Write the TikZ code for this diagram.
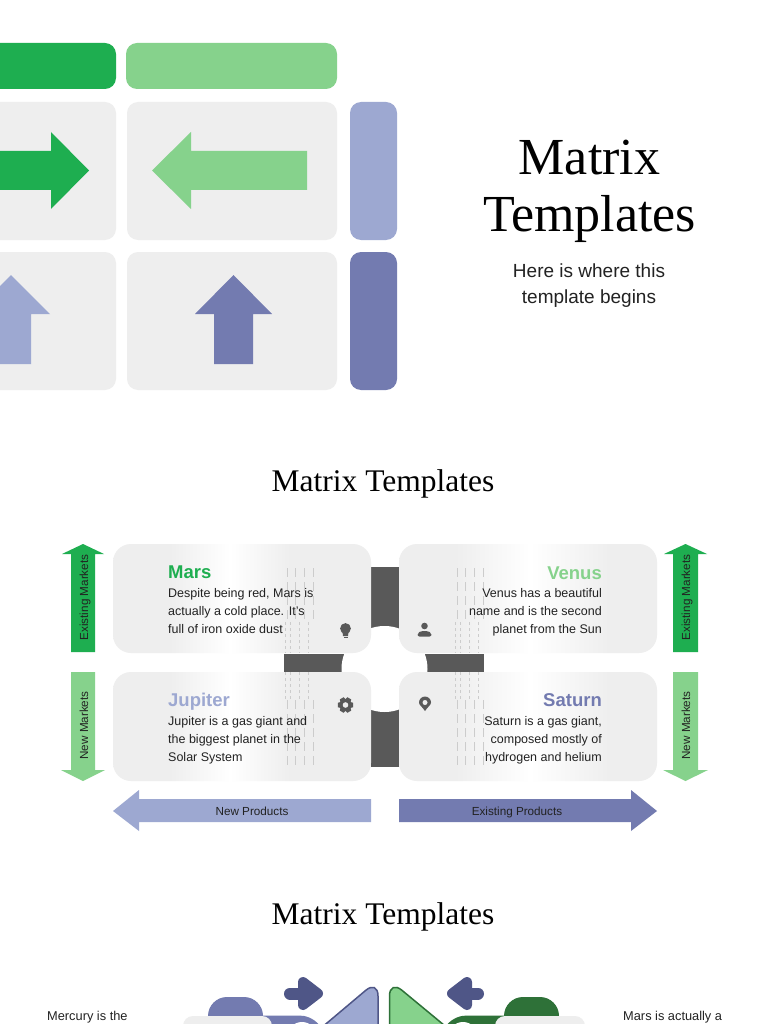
\documentclass[tikz,border=0pt]{standalone}
\usepackage{fontspec}
\setmainfont{Liberation Sans}
\newfontfamily\serifface{Liberation Serif}
\usetikzlibrary{calc}
\definecolor{gA}{HTML}{1EAE50}
\definecolor{gB}{HTML}{86D28C}
\definecolor{pA}{HTML}{9DA8D1}
\definecolor{pB}{HTML}{737BB0}
\definecolor{pD}{HTML}{4F5687}
\definecolor{gD}{HTML}{2E7138}
\definecolor{cardg}{HTML}{EEEEEE}
\definecolor{barg}{HTML}{595959}
\definecolor{icong}{HTML}{595959}
\definecolor{txt}{HTML}{222222}
\pgfdeclarehorizontalshading{cardL}{100bp}{color(0bp)=(cardg); color(36bp)=(cardg); color(47.7bp)=(white); color(59.3bp)=(cardg); color(100bp)=(cardg)}
\pgfdeclarehorizontalshading{cardR}{100bp}{color(0bp)=(cardg); color(36bp)=(cardg); color(50.4bp)=(white); color(65.7bp)=(cardg); color(100bp)=(cardg)}
\tikzset{
  roundbox/.style={rectangle,inner sep=0pt,outer sep=0pt,draw=none},
  cardL/.style={roundbox,rounded corners=18pt,minimum width=258pt,minimum height=109pt,shade,shading=cardL},
  cardR/.style={roundbox,rounded corners=18pt,minimum width=258pt,minimum height=109pt,shade,shading=cardR},
  plain/.style={roundbox,rounded corners=11pt,fill=cardg},
  bigtitle/.style={font=\serifface\fontsize{52}{57.5}\selectfont,align=center,text=black,inner sep=0pt},
  sectitle/.style={font=\serifface\fontsize{31.5}{36}\selectfont,text=black,inner sep=0pt},
  subt/.style={font=\fontsize{19}{26}\selectfont,align=center,text=txt,inner sep=0pt},
  head/.style={font=\bfseries\fontsize{18.5}{20}\selectfont,inner sep=0pt},
  bodyl/.style={font=\fontsize{12.5}{17.7}\selectfont,align=left,text=txt,inner sep=0pt},
  bodyr/.style={font=\fontsize{12.5}{17.7}\selectfont,align=right,text=txt,inner sep=0pt},
  tag/.style={font=\fontsize{11.7}{13}\selectfont,text=txt,inner sep=0pt,anchor=base},
  grainlong/.style={draw=black!20,line width=.4pt,dash pattern=on 9pt off 5pt},
  grainshort/.style={draw=black!20,line width=.4pt,dash pattern=on 3pt off 3pt},
  dartshaft/.style={draw=pD,line width=12pt,line cap=round},
  darthead/.style={draw=pD,fill=pD,line width=10pt,line join=round},
}
\begin{document}
\begin{tikzpicture}[x=1pt,y=-1pt]
\path[use as bounding box,clip] (0,0) rectangle (768,1024);
\fill[white] (0,0) rectangle (768,1024);
% top matrix
\node[roundbox,rounded corners=11pt,fill=gA,minimum width=216pt,minimum height=46pt] (barA) at (8,66) {};
\node[roundbox,rounded corners=11pt,fill=gB,minimum width=211pt,minimum height=46pt] (barB) at (231.5,66) {};
\node[plain,minimum width=216pt,minimum height=138pt] (c11) at (8,171) {};
\node[plain,minimum width=210pt,minimum height=138pt] (c12) at (232,171) {};
\node[plain,minimum width=216pt,minimum height=138pt] (c21) at (8,321) {};
\node[plain,minimum width=210pt,minimum height=138pt] (c22) at (232,321) {};
\node[roundbox,rounded corners=11pt,fill=pA,minimum width=47pt,minimum height=138pt] (sideA) at (373.5,171) {};
\node[roundbox,rounded corners=11pt,fill=pB,minimum width=47pt,minimum height=138pt] (sideB) at (373.5,321) {};
\fill[gA] (-60,151)--(51,151)--(51,132)--(89,170.5)--(51,209)--(51,190)--(-60,190)--cycle;
\fill[gB] (307,151)--(191,151)--(191,132)--(152,170.5)--(191,209)--(191,190)--(307,190)--cycle;
\fill[pA] (-8,364)--(-8,314)--(-28,314)--(11,275)--(50,314)--(31,314)--(31,364)--cycle;
\fill[pB] (214,364)--(214,314)--(195,314)--(233.5,275)--(272,314)--(253,314)--(253,364)--cycle;
% heading
\node[bigtitle] (ttl) at (589.5,191.5) {Matrix\\Templates};
\node[subt] (sub) at (589,286) {Here is where this\\template begins};
\node[sectitle] (sec1) at (383,484) {Matrix Templates};
\node[sectitle] (sec2) at (383,917) {Matrix Templates};
% central cross
\fill[barg] (371,567) rectangle (399,767);
\fill[barg] (284,654) rectangle (484,672);
\fill[white] (384.5,669) circle[radius=43];
% cards
\node[cardL] (mars) at (242,598.5) {};
\node[cardL] (jup) at (242,726.5) {};
\node[cardR] (ven) at (528,598.5) {};
\node[cardR] (sat) at (528,726.5) {};
% grain
\foreach \gx in {0,170}{
  \foreach \gc in {287,295,304,313}{
    \draw[grainlong] (\gx+\gc,568)--(\gx+\gc,622);
    \draw[grainlong] (\gx+\gc,700)--(\gx+\gc,767);
  }
  \foreach \gc in {285,290,299,308}{
    \draw[grainshort] (\gx+\gc,622)--(\gx+\gc,653);
    \draw[grainshort] (\gx+\gc,672)--(\gx+\gc,700);
  }
}
% card text
\node[head,text=gA,anchor=base west] (t1) at (168,578) {Mars};
\node[head,text=gB,anchor=base east] (t2) at (602,579) {Venus};
\node[head,text=pA,anchor=base west] (t3) at (168,706) {Jupiter};
\node[head,text=pB,anchor=base east] (t4) at (602,706) {Saturn};
\node[bodyl,anchor=north west] (b1) at (168,588.5) {Despite being red, Mars is\\actually a cold place. It’s\\full of iron oxide dust};
\node[bodyr,anchor=north east] (b2) at (602,588.5) {Venus has a beautiful\\name and is the second\\planet from the Sun};
\node[bodyl,anchor=north west] (b3) at (168,716.5) {Jupiter is a gas giant and\\the biggest planet in the\\Solar System};
\node[bodyr,anchor=north east] (b4) at (602,716.5) {Saturn is a gas giant,\\composed mostly of\\hydrogen and helium};
% icons
\fill[icong] (345.5,628.5) circle[radius=5.4];
\fill[icong] (342.5,632)--(348.5,632)--(348,636)--(343,636)--cycle;
\fill[icong] (343.5,636.6) rectangle (347.5,638);
\fill[icong] (424.5,626) circle[radius=3.3];
\fill[icong,rounded corners=2pt] (417.5,636.5)--(417.5,633)--(421,631)--(428,631)--(431.5,633)--(431.5,636.5)--cycle;
\foreach \a in {0,60,...,300}{\fill[icong] ($(345.5,705)+(\a-16:8)$)--($(345.5,705)+(\a+16:8)$)--($(345.5,705)+(\a+40:5)$)--($(345.5,705)+(\a-40:5)$)--cycle;}
\fill[icong] (345.5,705) circle[radius=6];
\fill[cardg] (345.5,705) circle[radius=2.8];
\fill[icong] (425,711) .. controls (422,706.5) and (419,705) .. (419,702.5) arc[start angle=180,end angle=360,radius=6] .. controls (431,705) and (428,706.5) .. (425,711)--cycle;
\fill[cardg] (425,702.5) circle[radius=2.5];
% market arrows
\fill[gA] (71,652)--(71,554)--(62,554)--(83,544)--(104,554)--(95,554)--(95,652)--cycle;
\fill[gB] (71,672)--(71,770)--(61,770)--(83,781)--(105,770)--(95,770)--(95,672)--cycle;
\fill[gA] (673,652)--(673,554)--(664,554)--(685.5,544)--(707,554)--(698,554)--(698,652)--cycle;
\fill[gB] (673,672)--(673,770)--(663,770)--(685.5,781)--(708,770)--(698,770)--(698,672)--cycle;
\fill[pA] (371,799)--(139,799)--(139,790)--(113,811)--(139,831)--(139,822)--(371,822)--cycle;
\fill[pB] (399,799)--(631,799)--(631,790)--(657,811)--(631,831)--(631,822)--(399,822)--cycle;
\node[tag,rotate=90] (m1) at (88,597.5) {Existing Markets};
\node[tag,rotate=90] (m2) at (88,725.5) {New Markets};
\node[tag,rotate=90] (m3) at (690,597.5) {Existing Markets};
\node[tag,rotate=90] (m4) at (690,725.5) {New Markets};
\node[tag] (p1) at (252,815) {New Products};
\node[tag] (p2) at (517,815) {Existing Products};
% bottom fragment
\node[font=\fontsize{12.8}{15}\selectfont,text=txt,inner sep=0pt,anchor=base west] (q1) at (47,1020) {Mercury is the};
\node[font=\fontsize{12.8}{15}\selectfont,text=txt,inner sep=0pt,anchor=base west] (q2) at (623,1020) {Mars is actually a};
\fill[pB,rounded corners=19pt] (208,1050)--(208,997)--(263,997)--(263,1050)--cycle;
\fill[pB,rounded corners=13pt] (250,1050)--(250,1015.7)--(314,1015.7)--(334,1050)--cycle;
\fill[white] (302,1037) circle[radius=15];
\fill[gD,rounded corners=19pt] (504,1050)--(504,997)--(559,997)--(559,1050)--cycle;
\fill[gD,rounded corners=13pt] (432,1050)--(452,1015.7)--(520,1015.7)--(520,1050)--cycle;
\fill[white] (463,1037) circle[radius=15];
\draw[pD,line width=1.5pt,fill=pA,rounded corners=16pt] (378,1070)--(378,980)--(327,1023)--(271,1070)--cycle;
\draw[gD,line width=1.5pt,fill=gB,rounded corners=16pt] (389.5,1070)--(389.5,980)--(441.5,1023)--(498,1070)--cycle;
\draw[dartshaft] (290,993.5)--(305,993.5);
\draw[darthead] (303,982)--(318,993.5)--(303,1005)--cycle;
\draw[dartshaft] (478,993.5)--(465,993.5);
\draw[darthead] (467,982)--(452,993.5)--(467,1005)--cycle;
\fill[cardg,rounded corners=10pt] (183,1050)--(183,1016)--(272,1016)--(272,1050)--cycle;
\fill[cardg,rounded corners=10pt] (495,1050)--(495,1016)--(585,1016)--(585,1050)--cycle;
\end{tikzpicture}
\end{document}
